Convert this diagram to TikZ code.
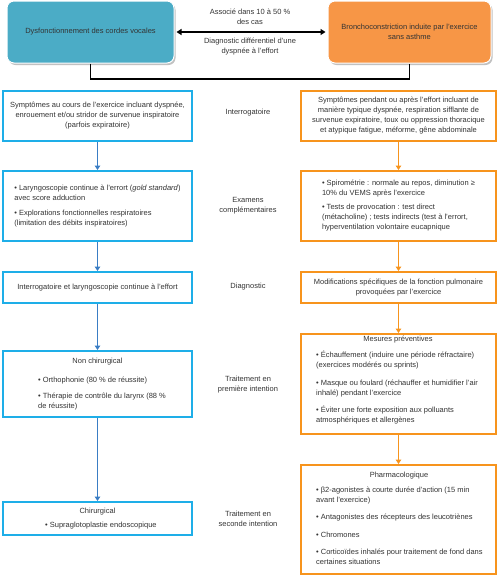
\documentclass[tikz,border=0pt]{standalone}
\usepackage{fontspec}
\setmainfont{Liberation Sans}
\usetikzlibrary{arrows.meta,shadows}
\definecolor{teal1}{HTML}{4BACC6}
\definecolor{org1}{HTML}{F79646}
\definecolor{bl}{HTML}{1EAEE8}
\definecolor{blarr}{HTML}{3A7DC4}
\definecolor{orb}{HTML}{F7941D}
\definecolor{txt}{HTML}{333333}
\begin{document}
\begin{tikzpicture}[x=1pt,y=-1pt,
  every node/.style={font=\fontsize{7.5}{10}\selectfont, text=txt, inner sep=0pt},
  topbox/.style={rounded corners=7pt, draw=white, line width=1pt,
    drop shadow={shadow xshift=1.5pt, shadow yshift=-2pt, fill=black!35, opacity=0.7},
    align=center, minimum height=62pt},
  lbox/.style={draw=bl, line width=2pt, fill=white, align=center, minimum width=189pt},
  rbox/.style={draw=orb, line width=2pt, fill=white, align=center, minimum width=195pt},
  larr/.style={draw=blarr, line width=1.5pt, -{Triangle[width=5.5pt,length=4.5pt]}},
  rarr/.style={draw=orb, line width=1.5pt, -{Triangle[width=5.5pt,length=4.5pt]}},
  blk/.style={draw=black, line width=1.3pt},
  midlabel/.style={align=center},
  bul/.style={align=left, anchor=north west},
]
\useasboundingbox (0,0) rectangle (498,576);

% top boxes
\node[topbox, fill=teal1, minimum width=167pt] (T1) at (90.5,32) {Dysfonctionnement des cordes vocales};
\node[topbox, fill=org1, minimum width=163pt] (T2) at (409.5,32) {Bronchoconstriction induite par l'exercice\\sans asthme};
\node[midlabel] (ta) at (250,16.5) {Associé dans 10 à 50~\%\\des cas};
\node[midlabel] (tb) at (250,47) {Diagnostic différentiel d'une\\dyspnée à l'effort};
\draw[blk, line width=1.5pt, {Triangle[width=6pt,length=5pt]}-{Triangle[width=6pt,length=5pt]}]
  ([xshift=2pt]T1.east) -- ([xshift=-2pt]T2.west);
\coordinate (cm) at (250,79);
\draw[blk] (T1.south) -- (T1.south |- cm) -| (T2.south);

% left column
\node[lbox, minimum height=50pt] (L1) at (97.5,116) {Symptômes au cours de l'exercice incluant dyspnée,\\enrouement et/ou stridor de survenue inspiratoire\\(parfois expiratoire)};
\node[lbox, minimum height=70pt, align=left] (L2) at (97.5,206) {• Laryngoscopie continue à l'errort (\textit{gold standard})\\avec score adduction\\[5pt]• Explorations fonctionnelles respiratoires\\(limitation des débits inspiratoires)};
\node[lbox, minimum height=31pt] (L3) at (97.5,287.5) {Interrogatoire et laryngoscopie continue à l'effort};
\node[lbox, minimum height=66pt] (L4) at (97.5,384) {};
\node (L4h) at (97.5,362) {Non chirurgical};
\node[bul] (L4b) at (38,375.5) {\strut• Orthophonie (80~\% de réussite)\\[6pt]• Thérapie de contrôle du larynx (88~\%\\de réussite)};
\node[lbox, minimum height=33pt] (L5) at (97.5,518.5) {};
\node (L5h) at (97.5,512) {Chirurgical};
\node[anchor=west] (L5b) at (45,526) {• Supraglotoplastie endoscopique};

\draw[larr] (L1) -- (L2);
\draw[larr] (L2) -- (L3);
\draw[larr] (L3) -- (L4);
\draw[larr] (L4) -- (L5);

% middle labels
\node[midlabel] (m1) at (248,113) {Interrogatoire};
\node[midlabel] (m2) at (248,205.5) {Examens\\complémentaires};
\node[midlabel] (m3) at (248,287) {Diagnostic};
\node[midlabel] (m4) at (248,384.5) {Traitement en\\première intention};
\node[midlabel] (m5) at (248,518.5) {Traitement en\\seconde intention};

% right column
\node[rbox, minimum height=50pt] (R1) at (398.5,116) {Symptômes pendant ou après l'effort incluant de\\manière typique dyspnée, respiration sifflante de\\survenue expiratoire, toux ou oppression thoracique\\et atypique fatigue, méforme, gêne abdominale};
\node[rbox, minimum height=70pt, align=left] (R2) at (398.5,206) {• Spirométrie : normale au repos, diminution ≥\\10\% du VEMS après l'exercice\\[4pt]• Tests de provocation : test direct\\(métacholine) ; tests indirects (test à l'errort,\\hyperventilation volontaire eucapnique};
\node[rbox, minimum height=31pt] (R3) at (398.5,287.5) {Modifications spécifiques de la fonction pulmonaire\\provoquées par l'exercice};
\node[rbox, minimum height=100pt] (R4) at (398.5,384) {};
\node (R4h) at (398,340) {Mesures préventives};
\node[bul] (R4b) at (316,350.5) {\strut• Échauffement (induire une période réfractaire)\\(exercices modérés ou sprints)\\[7.5pt]• Masque ou foulard (réchauffer et humidifier l'air\\inhalé) pendant l'exercice\\[7.5pt]• Éviter une forte exposition aux polluants\\atmosphériques et allergènes};
\node[rbox, minimum height=109pt] (R5) at (398.5,519.5) {};
\node (R5h) at (399,476) {Pharmacologique};
\node[bul] (R5b) at (316,484.8) {\strut• β2-agonistes à courte durée d'action (15 min\\avant l'exercice)\\[7.5pt]• Antagonistes des récepteurs des leucotriènes\\[7.5pt]• Chromones\\[7.5pt]• Corticoïdes inhalés pour traitement de fond dans\\certaines situations};

\draw[rarr] (R1) -- (R2);
\draw[rarr] (R2) -- (R3);
\draw[rarr] (R3) -- (R4);
\draw[rarr] (R4) -- (R5);
\end{tikzpicture}
\end{document}
